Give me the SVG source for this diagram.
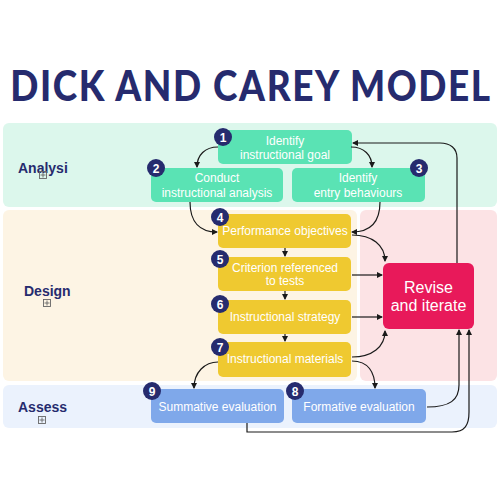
<svg xmlns="http://www.w3.org/2000/svg" width="500" height="500" viewBox="0 0 500 500">
<defs>
<marker id="ah" markerWidth="6" markerHeight="6" refX="5" refY="3" orient="auto" markerUnits="userSpaceOnUse"><path d="M0,0 L6,3 L0,6 z" fill="#1a1a1a"/></marker>
<style>
.lane-label{font-family:"Liberation Sans",Arial,sans-serif;font-weight:bold;font-size:14px;fill:#262b6e}
.nt{font-family:"Liberation Sans",Arial,sans-serif;font-size:12px;fill:#ffffff;text-anchor:middle}
.rt{font-family:"Liberation Sans",Arial,sans-serif;font-size:16px;fill:#ffffff;text-anchor:middle}
.bt{font-family:"Liberation Sans",Arial,sans-serif;font-weight:bold;font-size:12px;fill:#ffffff;text-anchor:middle}
.badge{fill:#262b6e}
.green{fill:#5ae3b4}
.yellow{fill:#efc930}
.blue{fill:#7fa8ea}
.icon{fill:none;stroke:#666;stroke-width:0.9}
.conn path{fill:none;stroke:#1a1a1a;stroke-width:1.2;marker-end:url(#ah)}
</style>
</defs>
<rect width="500" height="500" fill="#ffffff"/>
<text transform="translate(251,101) scale(1,1.15)" x="0" y="0" text-anchor="middle" font-family="Lato,'DejaVu Sans',sans-serif" font-weight="900" font-size="37" letter-spacing="1.6" fill="#262b6e">DICK AND CAREY MODEL</text>

<g id="lanes">
<rect x="3" y="123" width="494" height="84" rx="6" fill="#dcf7ec"/>
<rect x="3" y="210" width="354" height="171" rx="6" fill="#fdf4e4"/>
<rect x="360" y="210" width="137" height="171" rx="6" fill="#fce3e5"/>
<rect x="3" y="385" width="494" height="43" rx="6" fill="#ebf2fd"/>
<text class="lane-label" x="18" y="173">Analysi</text>
<g class="icon"><rect x="39.5" y="171.5" width="7" height="7"/><path d="M43,172.5 V177.5 M40.5,175 H45.5"/></g>
<text class="lane-label" x="24" y="296">Design</text>
<g class="icon"><rect x="43.5" y="299.5" width="7" height="7"/><path d="M47,300.5 V305.5 M44.5,303 H49.5"/></g>
<text class="lane-label" x="18" y="412">Assess</text>
<g class="icon"><rect x="38.5" y="416.5" width="7" height="7"/><path d="M42,417.5 V422.5 M39.5,420 H44.5"/></g>
</g>

<g id="node1"><rect class="green" x="218" y="130" width="134" height="34" rx="5"/><text class="nt" x="285" y="145">Identify</text><text class="nt" x="285" y="159">instructional goal</text><circle class="badge" cx="223" cy="137" r="9"/><text class="bt" x="223" y="141.5">1</text></g>
<g id="node2"><rect class="green" x="151" y="168" width="132" height="34" rx="5"/><text class="nt" x="217" y="182">Conduct</text><text class="nt" x="217" y="197">instructional analysis</text><circle class="badge" cx="156" cy="168" r="9"/><text class="bt" x="156" y="172.5">2</text></g>
<g id="node3"><rect class="green" x="292" y="168" width="133" height="34" rx="5"/><text class="nt" x="358" y="182">Identify</text><text class="nt" x="358" y="197">entry behaviours</text><circle class="badge" cx="419" cy="168" r="9"/><text class="bt" x="419" y="172.5">3</text></g>
<g id="node4"><rect class="yellow" x="218" y="214" width="133" height="34" rx="5"/><text class="nt" x="285" y="235">Performance objectives</text><circle class="badge" cx="220" cy="217" r="9"/><text class="bt" x="220" y="221.5">4</text></g>
<g id="node5"><rect class="yellow" x="218" y="257" width="133" height="34" rx="5"/><text class="nt" x="285" y="272">Criterion referenced</text><text class="nt" x="285" y="285">to tests</text><circle class="badge" cx="220" cy="259" r="9"/><text class="bt" x="220" y="263.5">5</text></g>
<g id="node6"><rect class="yellow" x="218" y="300" width="133" height="34" rx="5"/><text class="nt" x="285" y="321">Instructional strategy</text><circle class="badge" cx="220" cy="304" r="9"/><text class="bt" x="220" y="308.5">6</text></g>
<g id="node7"><rect class="yellow" x="218" y="342" width="133" height="35" rx="5"/><text class="nt" x="285" y="363">Instructional materials</text><circle class="badge" cx="220" cy="347" r="9"/><text class="bt" x="220" y="351.5">7</text></g>
<g id="node-revise"><rect x="383" y="263" width="91" height="66" rx="6" fill="#e8195a"/><text class="rt" x="428.5" y="293">Revise</text><text class="rt" x="428.5" y="311">and iterate</text></g>
<g id="node9"><rect class="blue" x="151" y="389" width="133" height="34" rx="5"/><text class="nt" x="217.5" y="411">Summative evaluation</text><circle class="badge" cx="152" cy="391" r="9"/><text class="bt" x="152" y="395.5">9</text></g>
<g id="node8"><rect class="blue" x="292" y="389" width="134" height="34" rx="5"/><text class="nt" x="359" y="411">Formative evaluation</text><circle class="badge" cx="295" cy="391" r="9"/><text class="bt" x="295" y="395.5">8</text></g>

<g id="connectors" class="conn">
<path d="M218,147 C205,147 197,155 197,167"/>
<path d="M351,147 C364,147 372,155 372,167"/>
<path d="M190,202 C190,222 200,232 217,232"/>
<path d="M380,202 C380,222 370,232 352,232"/>
<path d="M285,248 L285,256"/>
<path d="M285,291 L285,299"/>
<path d="M285,334 L285,341"/>
<path d="M352,235 C372,235 385,245 385,261"/>
<path d="M352,275 L382,275"/>
<path d="M352,317 L382,317"/>
<path d="M352,357 C372,357 385,347 385,331"/>
<path d="M352,361 C368,361 375,372 375,388"/>
<path d="M218,362 C205,362 194,372 194,388"/>
<path d="M427,407 C450,407 459,400 459,385 L459,330"/>
<path d="M247,423 L247,432 L452,432 C465,432 469,425 469,412 L469,330"/>
<path d="M457,263 L457,158 C457,148 450,143 440,143 L353,143"/>
</g>
</svg>
